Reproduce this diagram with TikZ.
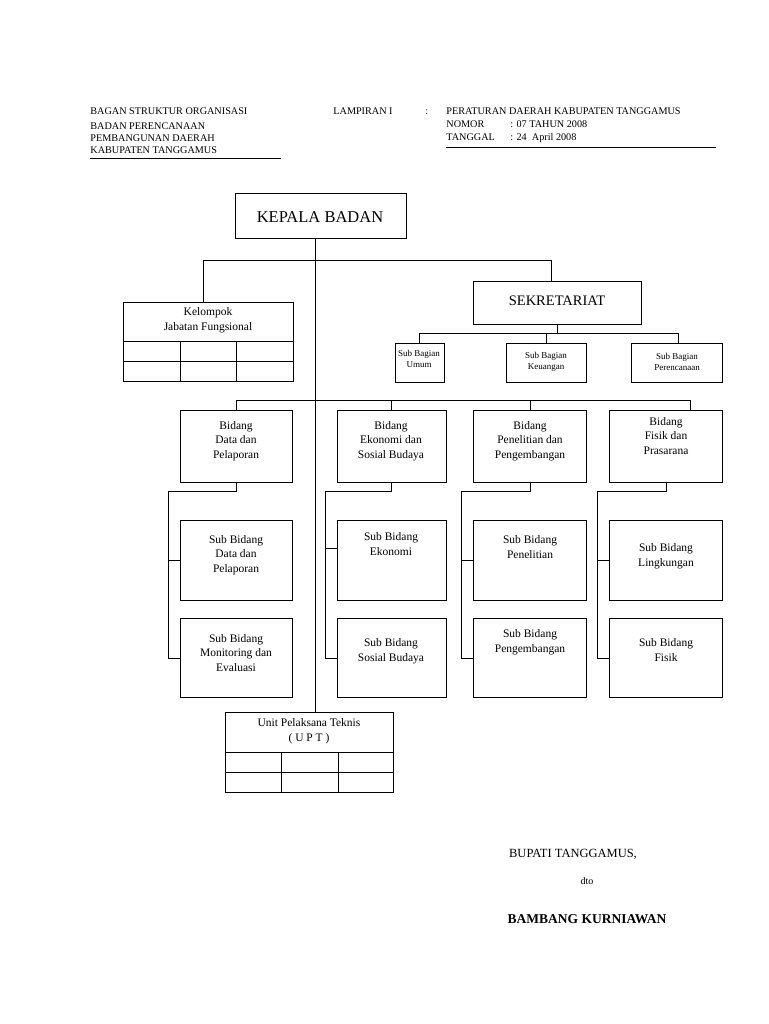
\documentclass[tikz,border=0pt]{standalone}
\usepackage{fontspec}
\setmainfont{Liberation Serif}
\begin{document}
\begin{tikzpicture}[x=1pt,y=-1pt,line width=0.8pt,
 hd/.style={anchor=base west,font=\fontsize{10.2}{12}\selectfont,inner sep=0},
 tx/.style={align=center,font=\fontsize{11.5}{14.5}\selectfont,inner sep=0},
 sm/.style={align=center,font=\fontsize{9}{11.5}\selectfont,inner sep=0}]
\useasboundingbox (0,0) rectangle (768,1024);
% header
\node[hd] (h1) at (90,115) {BAGAN STRUKTUR ORGANISASI};
\node[hd] (h2) at (90,130) {BADAN PERENCANAAN};
\node[hd] (h3) at (90,142) {PEMBANGUNAN DAERAH};
\node[hd] (h4) at (90,154) {KABUPATEN TANGGAMUS};
\draw (90,158) -- (281,158);
\node[hd] (h5) at (333,115) {LAMPIRAN I};
\node[hd] (h6) at (425,115) {:};
\node[hd] (h7) at (446,115) {PERATURAN DAERAH KABUPATEN TANGGAMUS};
\node[hd] (h8) at (446,128) {NOMOR};
\node[hd] (h9) at (510,128) {: 07 TAHUN 2008};
\node[hd] (h10) at (446,141) {TANGGAL};
\node[hd] (h11) at (510,141) {: 24\ \ April 2008};
\draw (446,147) -- (716,147);
% boxes
\draw (235,193) rectangle (406,238);
\node[font=\fontsize{16.5}{18}\selectfont] (kb) at (320,217) {KEPALA BADAN};
\coordinate (kbb) at (315,238);
\coordinate (uptt) at (315,712);
\draw (kbb) -- (uptt);
\draw (203,302) |- (551,260) -- (551,281);
% kelompok
\draw (123,302) rectangle (293,381);
\draw (123,341) -- (293,341) (123,361) -- (293,361) (180,341) -- (180,381) (236,341) -- (236,381);
\node[tx] (kel) at (208,320) {Kelompok\\Jabatan Fungsional};
% sekretariat
\draw (473,281) rectangle (641,324);
\node[font=\fontsize{14.5}{16}\selectfont] (sek) at (557,301) {SEKRETARIAT};
\draw (557,324) -- (557,333);
\draw (419,343) |- (678,333) -- (678,343) (546,333) -- (546,343);
\draw (395,343) rectangle (444,382);
\draw (506,343) rectangle (586,382);
\draw (631,343) rectangle (722,382);
\node[sm] (s1) at (419,359) {Sub Bagian\\Umum};
\node[sm] (s2) at (546,362) {Sub Bagian\\Keuangan};
\node[sm] (s3) at (677,362) {Sub Bagian\\Perencanaan};
% bidang
\draw (236,410) |- (690,400) -- (690,410) (391,400) -- (391,410) (530,400) -- (530,410);
\foreach \a/\b/\c in {180/292/236,337/446/391,473/586/530,609/722/666}{
 \draw (\a,410) rectangle (\b,482);
 \draw (\a,520) rectangle (\b,600);
 \draw (\a,618) rectangle (\b,697);
 \draw (\c,482) -- (\c,491) -- (\a-12,491) -- (\a-12,658) -- (\a,658);
}
\draw (168,560) -- (180,560) (326,548) -- (337,548) (462,560) -- (473,560) (598,560) -- (609,560);
\node[tx] (b1) at (236,441) {Bidang\\Data dan\\Pelaporan};
\node[tx] (b2) at (391,441) {Bidang\\Ekonomi dan\\Sosial Budaya};
\node[tx] (b3) at (530,441) {Bidang\\Penelitian dan\\Pengembangan};
\node[tx] (b4) at (666,436) {Bidang\\Fisik dan\\Prasarana};
\node[tx] (c1) at (236,555) {Sub Bidang\\Data dan\\Pelaporan};
\node[tx] (c2) at (236,653) {Sub Bidang\\Monitoring dan\\Evaluasi};
\node[tx] (c3) at (391,544) {Sub Bidang\\Ekonomi};
\node[tx] (c4) at (391,651) {Sub Bidang\\Sosial Budaya};
\node[tx] (c5) at (530,547) {Sub Bidang\\Penelitian};
\node[tx] (c6) at (530,642) {Sub Bidang\\Pengembangan};
\node[tx] (c7) at (666,556) {Sub Bidang\\Lingkungan};
\node[tx] (c8) at (666,650) {Sub Bidang\\Fisik};
% UPT
\draw (225,712) rectangle (393,792);
\draw (225,752) -- (393,752) (225,772) -- (393,772) (281,752) -- (281,792) (338,752) -- (338,792);
\node[tx] (upt) at (309,731) {Unit Pelaksana Teknis\\( U P T )};
% signature
\node[font=\fontsize{12.5}{14}\selectfont] (bup) at (573,854) {BUPATI TANGGAMUS,};
\node[font=\fontsize{10}{12}\selectfont] (dto) at (587,881) {dto};
\node[font=\fontsize{13.5}{15}\selectfont\bfseries] (bk) at (587,919) {BAMBANG KURNIAWAN};
\end{tikzpicture}
\end{document}
